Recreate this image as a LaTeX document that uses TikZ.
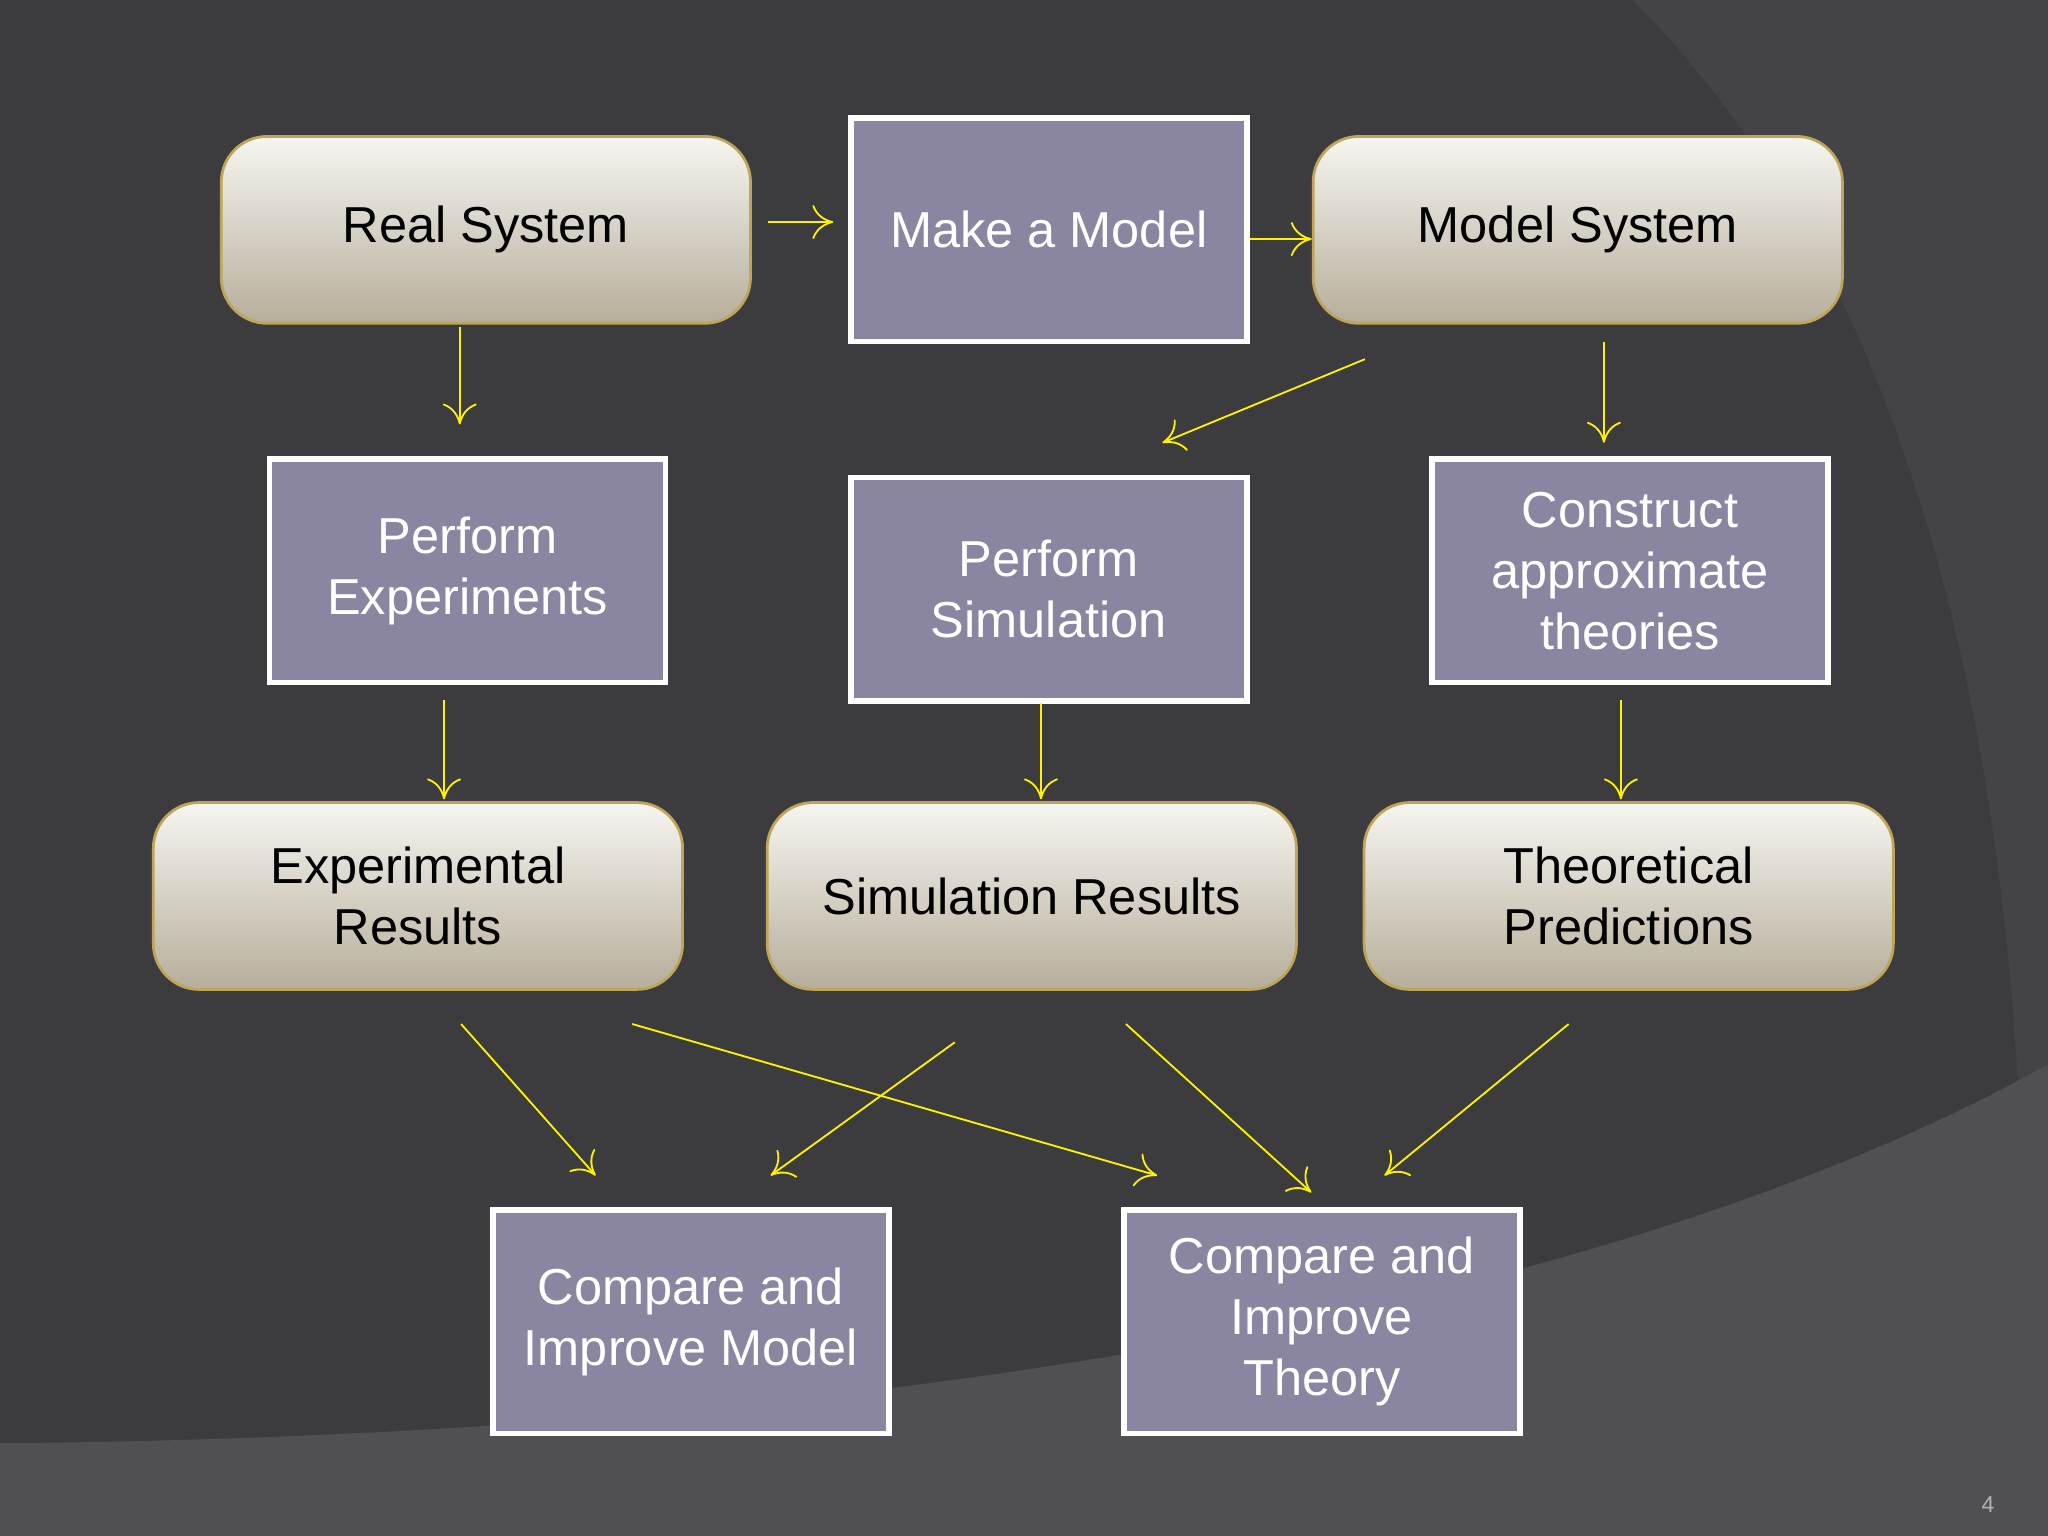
\documentclass[tikz,border=0pt]{standalone}
\usepackage{fontspec}
\usetikzlibrary{arrows.meta}
\setmainfont{Liberation Sans}
\definecolor{bgA}{RGB}{60,60,62}
\definecolor{bgB}{RGB}{68,68,70}
\definecolor{bgC}{RGB}{80,80,82}
\begin{document}
\begin{tikzpicture}[x=0.01cm,y=-0.01cm,
 rbox/.style={draw={rgb,255:red,190;green,165;blue,90},line width=0.6pt,rounded corners=0.35cm,top color={rgb,255:red,246;green,245;blue,240},bottom color={rgb,255:red,182;green,174;blue,155},minimum width=4.05cm,minimum height=1.43cm,align=center,font=\fontsize{11}{13.3}\selectfont,text=black},
 pbox/.style={draw=white,line width=1.2pt,fill={rgb,255:red,138;green,133;blue,160},minimum width=3.03cm,minimum height=1.71cm,align=center,font=\fontsize{11}{13.3}\selectfont,text=white},
 arr/.style={draw=yellow,line width=0.4pt,-{To[length=1.6mm,width=2.6mm]}}]
\fill[bgA] (0,0) rectangle (1568,1176);
\fill[bgB] (1250,0) .. controls (1400,150) and (1520,400) .. (1545,830) -- (1568,830) -- (1568,0) -- cycle;
\fill[bgC] (0,1105) .. controls (600,1100) and (1200,1020) .. (1568,815) -- (1568,1176) -- (0,1176) -- cycle;
\node[rbox] (rs) at (372,176) {Real System};
\node[pbox] (mm) at (803,176) {Make a Model};
\node[rbox] (ms) at (1208,176) {Model System};
\node[pbox] (pe) at (358,437) {Perform\\Experiments};
\node[pbox] (ps) at (803,451) {Perform\\Simulation};
\node[pbox] (ct) at (1248,437) {Construct\\approximate\\theories};
\node[rbox] (er) at (320,686) {Experimental\\Results};
\node[rbox] (sr) at (790,686) {Simulation Results};
\node[rbox] (tp) at (1247,686) {Theoretical\\Predictions};
\node[pbox] (cm) at (529,1012) {Compare and\\Improve Model};
\node[pbox] (cth) at (1012,1012) {Compare and\\Improve\\Theory};
\coordinate (a1) at (588,170); \coordinate (b1) at (638,170);
\path[arr] (a1) -- (b1);
\path[arr] (mm.east|-0,183) -- (ms.west|-0,183);
\draw[arr] (352,250) -- (352,325);
\draw[arr] (1045,275) -- (890,339);
\draw[arr] (1228,262) -- (1228,339);
\draw[arr] (340,536) -- (340,612);
\draw[arr] (797,538) -- (797,612);
\draw[arr] (1241,536) -- (1241,612);
\draw[arr] (353,784) -- (456,900);
\draw[arr] (484,784) -- (886,900);
\draw[arr] (731,798) -- (590,900);
\draw[arr] (862,784) -- (1004,913);
\draw[arr] (1201,784) -- (1060,900);
\node[text=gray!60!white,font=\fontsize{5}{6}\selectfont] (pg) at (1522,1152) {4};
\end{tikzpicture}
\end{document}
